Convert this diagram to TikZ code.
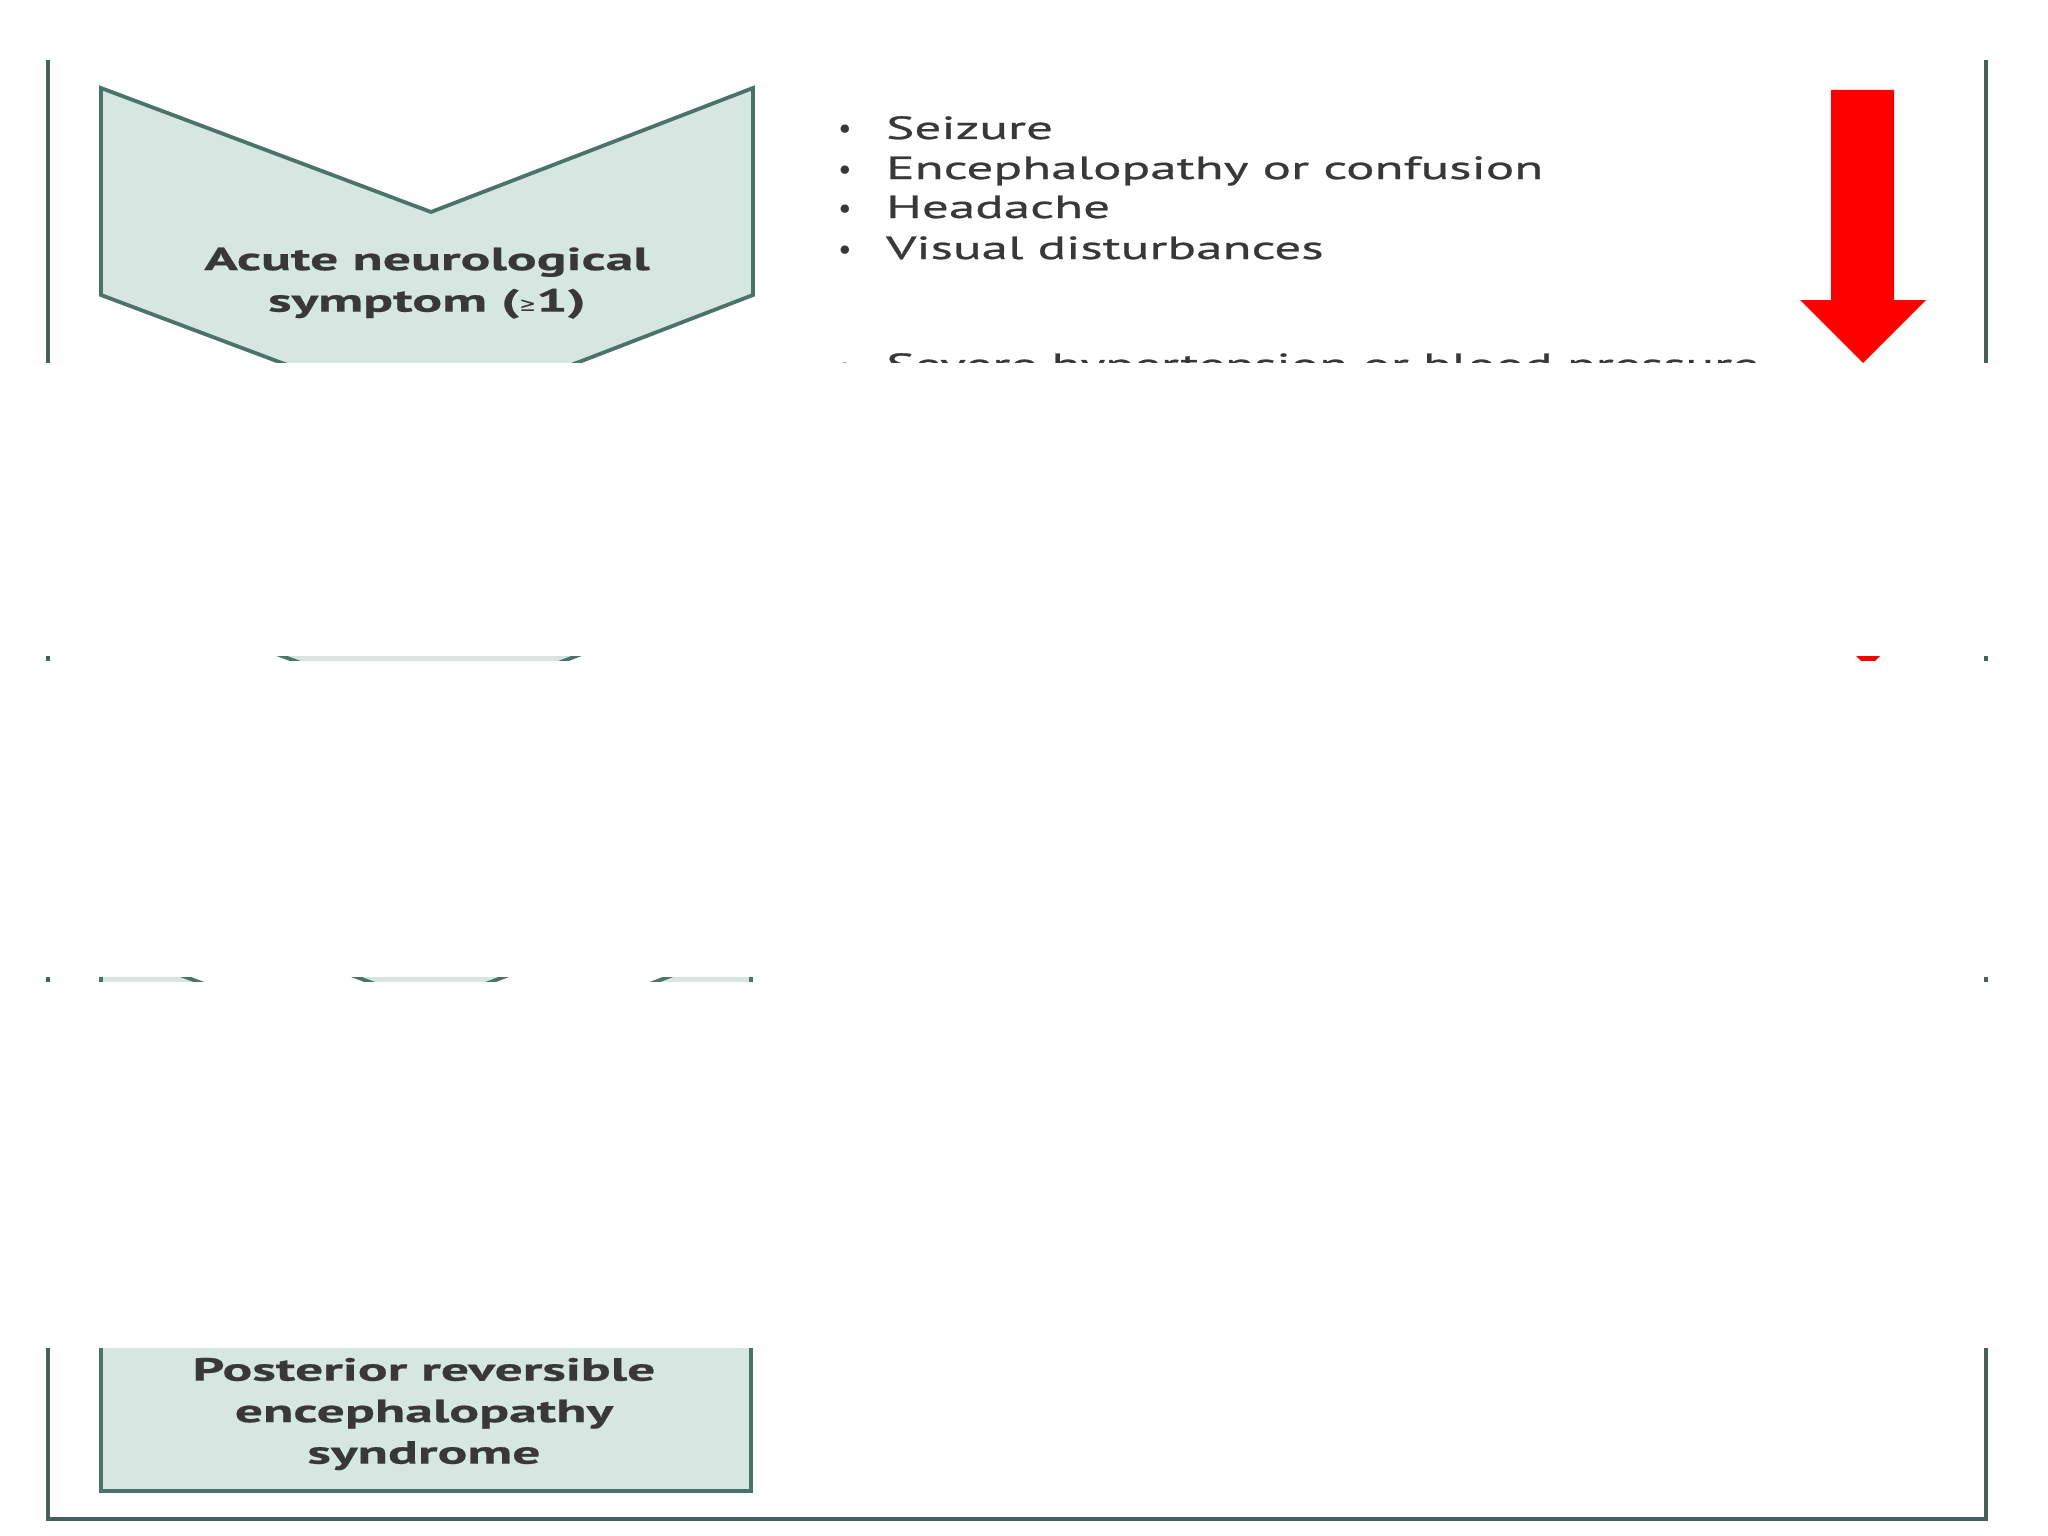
\documentclass[tikz,border=0pt]{standalone}
\usepackage{fontspec}
\setmainfont{PT Sans}
\newfontfamily\wide[FakeStretch=1.66,FakeBold=0.8]{PT Sans}
\newfontfamily\wideb[FakeStretch=1.74,FakeBold=0.6]{PT Sans Bold}
\newfontfamily\symf{DejaVu Sans}
\definecolor{framec}{HTML}{46605C}
\definecolor{boxfill}{HTML}{D6E6E0}
\definecolor{boxline}{HTML}{4A7369}
\definecolor{txt}{HTML}{383838}
\tikzset{
  chevbox/.style={fill=boxfill, draw=boxline, line width=3.8pt, line join=miter},
  boxtext/.style={font=\wideb\fontsize{32}{41.5}\selectfont, align=center, text=txt, inner sep=0pt},
  bultext/.style={font=\wide\fontsize{32}{40}\selectfont, text=txt, inner sep=0pt, anchor=base west},
  redarrow/.style={fill=red},
  mask/.style={fill=white}
}
\newcommand{\bul}{\makebox[48pt][l]{{\normalfont\fontsize{30}{30}\selectfont \raisebox{0pt}{•}}}}
\begin{document}
\begin{tikzpicture}[x=1pt,y=-1pt]
\useasboundingbox (0,0) rectangle (2048,1536);
\fill[white] (0,0) rectangle (2048,1536);
% outer frame (open at top)
\draw[framec, line width=4.5pt] (48,60) -- (48,1519) -- (1986,1519) -- (1986,60);
% chevrons
\foreach \d in {0,293,586}{
  \begin{scope}[shift={(0,\d)}]
    \filldraw[chevbox] (101,88) -- (431,212) -- (753,88) -- (753,295) -- (431,419) -- (101,295) -- cycle;
  \end{scope}
}
% final notched box
\filldraw[chevbox] (101,945) -- (429,1069) -- (751,945) -- (751,1491) -- (101,1491) -- cycle;
% red arrows
\fill[redarrow] (1831,90) -- (1894,90) -- (1894,300) -- (1926,300) -- (1863,363) -- (1800,300) -- (1831,300) -- cycle;
\begin{scope}[shift={(5,305)}]
\fill[redarrow] (1831,90) -- (1894,90) -- (1894,300) -- (1926,300) -- (1863,363) -- (1800,300) -- (1831,300) -- cycle;
\end{scope}
% texts
\node[boxtext] (acute) at (427,283) {Acute neurological\\symptom ({\symf\fontsize{20}{20}\selectfont ≥}1)};
\node[boxtext] (pres) at (424,1414) {Posterior reversible\\encephalopathy\\syndrome};
\node[bultext] (b1) at (838,139) {\bul Seizure};
\node[bultext] (b2) at (838,179) {\bul Encephalopathy or confusion};
\node[bultext] (b3) at (838,218) {\bul Headache};
\node[bultext] (b4) at (838,259) {\bul Visual disturbances};
\node[bultext] (b5) at (838,376) {\bul Severe hypertension or blood pressure};
% white masks
\fill[mask] (0,363) rectangle (2048,656);
\fill[mask] (0,661) rectangle (2048,977);
\fill[mask] (0,982) rectangle (2048,1348);
\end{tikzpicture}
\end{document}
